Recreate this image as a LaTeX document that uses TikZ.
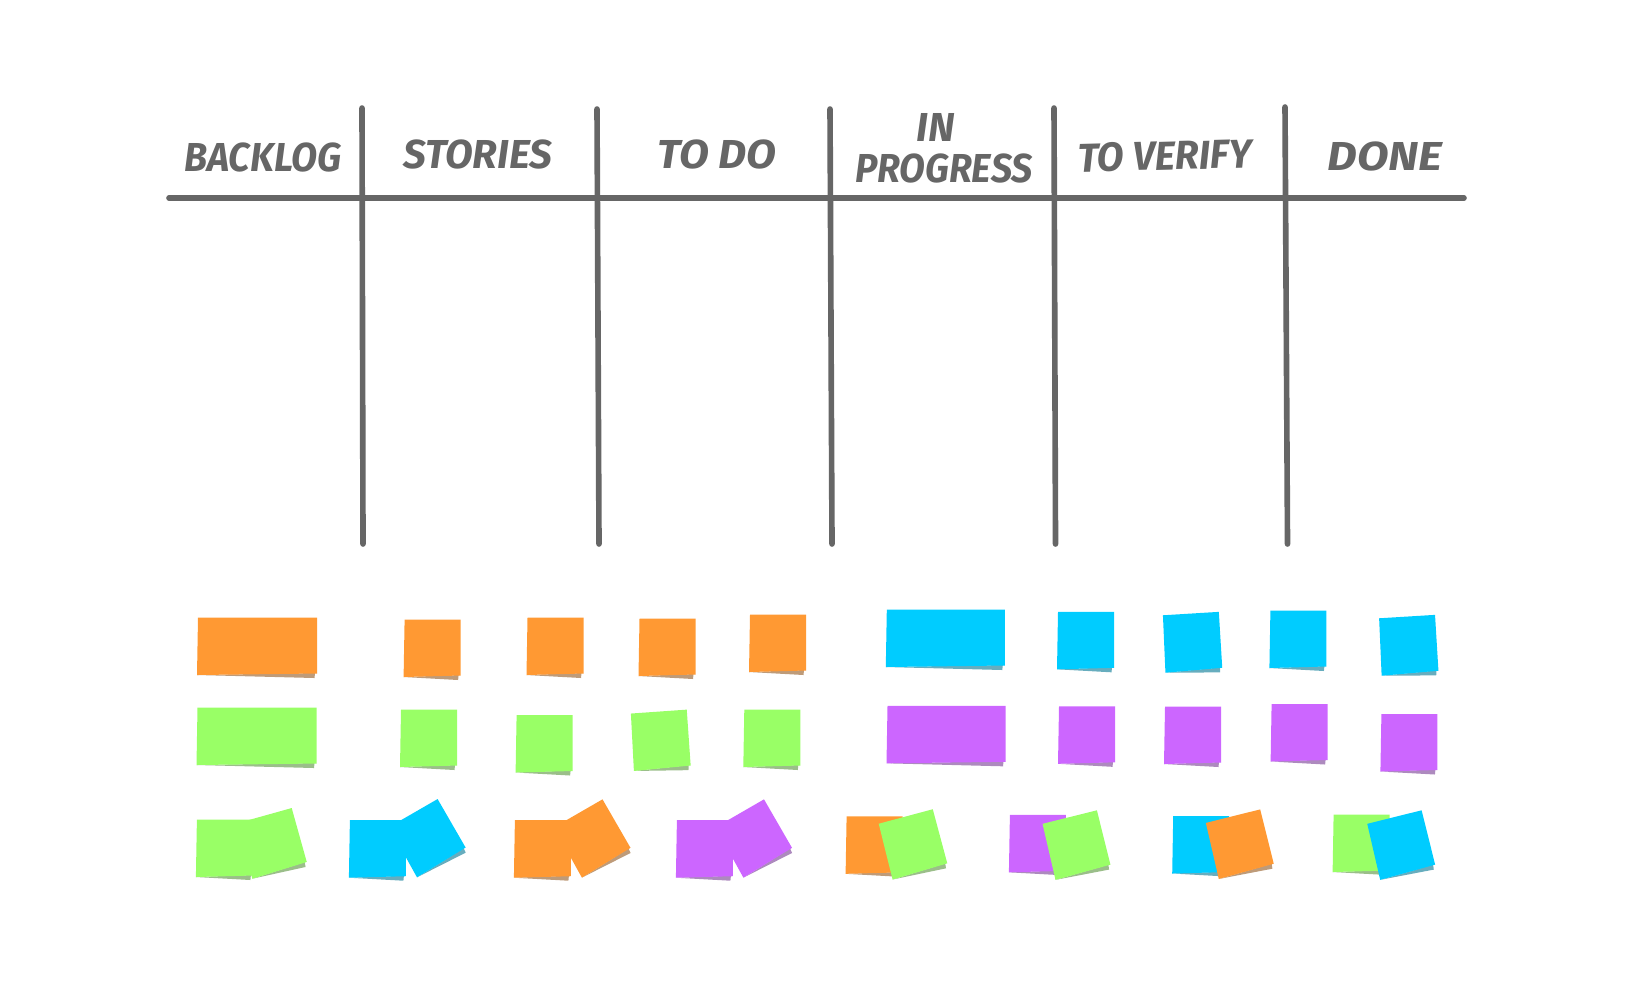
\documentclass[tikz,border=0pt]{standalone}
\usepackage{fontspec}
\usepackage{xcolor}
\usepackage{tikz}
\newfontfamily\boardfont{Fira Sans}
\definecolor{boardgray}{HTML}{666666}
\definecolor{stickyorange}{HTML}{FF9933}
\definecolor{stickygreen}{HTML}{99FF66}
\definecolor{stickyblue}{HTML}{00CCFF}
\definecolor{stickypurple}{HTML}{CC66FF}
\tikzset{
    boardline/.style={line width=1.6pt, line cap=round, draw=boardgray},
    columnhead/.style={text=boardgray, inner sep=0pt, font=\boardfont\bfseries\itshape\fontsize{11.5}{12}\selectfont},
    sticky/.style={fill=#1},
    stickyshade/.style={fill=#1!40!gray!85!white},
}
\begin{document}
\begin{tikzpicture}[x=0.1mm, y=-0.1mm]
    \useasboundingbox (0,0) rectangle (1633,980);
    % Board lines
    \draw[boardline] (169,198) -- (1464,198);
    \foreach \topx/\topy/\botx in {362/108/363, 597/109/599, 830/109/832, 1054/108/1055.5, 1285/107/1287.5}
        \draw[boardline] (\topx,\topy) -- (\botx,544);

    % Column titles
    \node[columnhead, xscale=0.94] (backlog) at (263,157) {BACKLOG};
    \node[columnhead] (stories) at (478,154) {STORIES};
    \node[columnhead, xscale=1.08] (todo) at (717,154) {TO DO};
    \node[columnhead] (inword) at (936,127) {IN};
    \node[columnhead, xscale=0.93] (progress) at (944,168) {PROGRESS};
    \node[columnhead, rotate=1.5, xscale=0.97] (verify) at (1165,156) {TO VERIFY};
    \node[columnhead, xscale=1.14] (done) at (1385,156) {DONE};

    % Sticky notes, back to front: x/y/width/rotation/colour
    \foreach \px/\py/\wd/\rot/\col in {
        257.5/646/119/0/stickyorange, 432.6/648/56/0/stickyorange, 555.5/646/56/0/stickyorange,
        667.5/647/56/0/stickyorange, 778/643/56/0/stickyorange,
        257/736/119/0/stickygreen, 429/738/56/0/stickygreen, 544.6/743.5/56/0/stickygreen,
        660.8/740/56/4/stickygreen, 772.3/738/56/0/stickygreen,
        945.8/638/118/0/stickyblue, 1086/640.3/56/0/stickyblue, 1192.6/642/56/3.5/stickyblue,
        1298.4/639/56/0/stickyblue, 1408.8/645/56/3.5/stickyblue,
        946.5/734.3/118/0/stickypurple, 1087/734.8/56/0/stickypurple, 1193/735/56/0/stickypurple,
        1299.6/732.5/56/0/stickypurple, 1409.4/742.5/56/0/stickypurple,
        272.4/843/56/15.6/stickygreen, 224.9/848/56/0/stickygreen,
        427.6/837.7/56/30/stickyblue, 377.9/848.7/56/0/stickyblue,
        592.5/838/56/30/stickyorange, 542.9/848.7/56/0/stickyorange,
        754/838/56/30/stickypurple, 704.9/848.7/56/0/stickypurple,
        874.6/844.8/56/0/stickyorange, 913.1/844/56/15/stickygreen,
        1037.9/843.3/56/0/stickypurple, 1076.6/844.7/56/14/stickygreen,
        1201.2/844.5/56/0/stickyblue, 1239.9/843.8/56/14/stickyorange,
        1361.6/843/56/0/stickygreen, 1401.3/844.7/56/14/stickyblue}
    {
        \begin{scope}[shift={(\px,\py)}, rotate=\rot]
            \fill[stickyshade=\col] (-\wd/2-1,29) -- (\wd/2-2.5,32) -- (\wd/2-2,27) -- (\wd/2,27) -- cycle;
            \fill[sticky=\col] (-\wd/2,-28.5) -- (\wd/2,-28.5) -- (\wd/2,27.5) -- (-\wd/2-1,29) -- cycle;
        \end{scope}
    }
\end{tikzpicture}
\end{document}
